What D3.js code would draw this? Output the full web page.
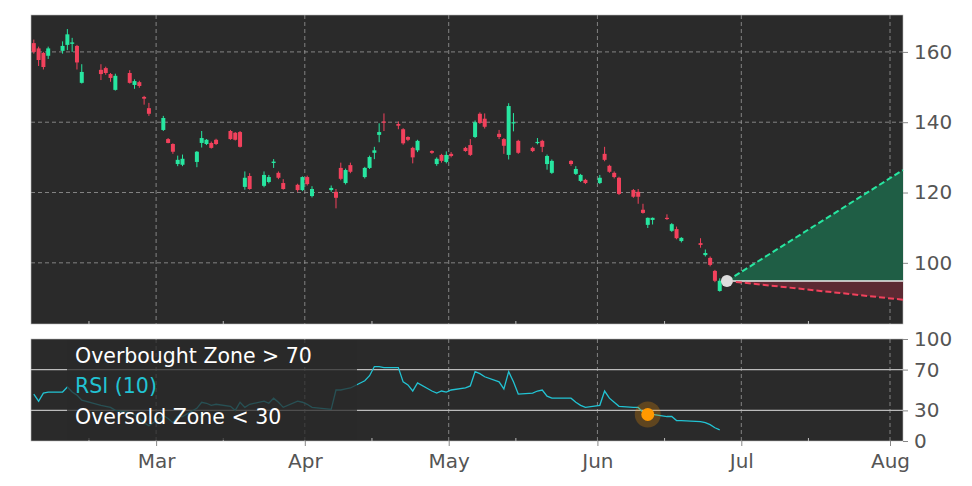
<!DOCTYPE html>
<html><head><meta charset="utf-8">
<script src="https://cdn.jsdelivr.net/npm/d3@7"></script>
<style>body{margin:0;background:#fff}svg{display:block}text{font-family:"DejaVu Sans",sans-serif}</style>
</head><body><svg id="c" width="972" height="486"></svg>
<script>
const holidays = ["2026-02-16","2026-04-03","2026-05-25","2026-06-19"];
const open  = [162.5,161,159.7,158.9,160.3,162,162.3,161.7,151.2,154.9,155.4,153.7,149.2,154,150.6,151.4,147.2,144,
137.8,135.2,133.8,128.1,127.9,128.7,134.1,133.8,134.1,135,137.5,137,137.2,121.6,124.7,121.9,123,128.4,125.6,122.7,122.2,120.7,
124.4,119,120.7,120.2,127,122.7,127.8,124.4,127,131.3,136.4,140.2,139.5,138,135.8,132.7,132,131.8,128.1,130.7,128.7,
131,132.7,133.5,135.8,142.4,141,136.7,135.2,130.7,139.8,134.7,132.7,134.1,134.7,128.1,125.6,129,125.3,123.3,123.6,
122.7,131,127.6,125.6,124.2,120.7,120.2,115.1,110.8,112.2,112.8,109.1,109.6,106.2,105.6,102.2,101.4,97.7,92];
const high  = [163.5,161.5,160,161.5,163,166.5,164,162,156.5,156.5,155.8,154,153.8,154.8,152.2,151.8,147.5,145.5,
141.8,135.5,134,130.5,130.8,131.8,137.5,135.2,134.5,135.3,137.8,137.2,137.5,126,125.5,126,125,129.5,126,123.8,122.5,124.6,
124.8,121.8,122,121,128.5,126.8,128.5,127.3,130.5,133,139.7,142.5,140.2,138.3,136,133,135,132,130,131,131.7,
131.5,133,135.2,140.5,142.8,142.5,137.8,135.5,145.4,142.6,135,133,135.5,135,130.8,129.4,129.2,127.5,125.3,123.9,
125,133,127.9,126,124.5,121,121,116.8,112.9,112.9,113.8,111.3,110.3,107.3,107,103.8,101.8,98,95.6];
const low   = [159.5,156,155,158,159.5,160.5,160,155,151,152,153.5,151.5,149,151,149.5,149.8,145,141.8,
137.5,134,131,127.5,127.5,127.2,132.8,133.5,132.5,133.5,135,134.8,132.8,120.8,120.8,121.5,122.6,127,123.8,120.8,120.2,120.4,
122,118.6,120.2,115.5,123.5,122.3,125.5,124,126.7,129.5,134.3,137.5,138,133.6,134.6,128.3,131.5,131,127.6,128.5,128.3,
130,131.6,130.4,135.5,139.5,138.2,135.2,131,129.4,137.4,131,131.5,133.7,131.5,126.5,125.3,127.6,125,123,122.4,
122.4,128.9,125.6,124,119.3,118.5,116.8,114,109.9,110.9,112.2,108.8,106.7,105.8,104.3,101.8,99,94.5,91.8];
const close = [160,157.7,155.7,161,161.7,165,162.7,157,154.3,153.7,154,152.6,153.2,151.2,151.7,150.3,146.7,142.4,
141.2,134.1,131.6,129.3,129.6,131.6,135.5,135,132.7,133.8,135.2,135,133,124.2,121,125,124.4,128.8,124.2,121,120.7,124.4,
122.4,121,121.3,118.5,123.9,126.4,125.9,127,130.1,132,137.2,139.9,139,134,135,130,134.7,131.3,129.6,129,130.7,
130.4,131.8,130.7,140,139.8,138.7,135.8,133.3,144.6,140,131.3,131.8,134.4,133,130.4,129,128.1,126.7,125,122.7,
124.2,129.3,125.9,124.4,119.6,118.8,118.8,114.2,112.8,112.8,112.5,111,107,107.1,105.1,102.8,99.4,94.9,94.9];
const rsi = [46,39,47,48,48,53,48,45,40,35,34,33,30,28,26,22,18,15,
25,22,18,24,24,32,38,37,35,36,34,30,38,33,36,39,37,42,38,33,39,38,
36,33,31,50,50,51,52,59,64,73,73,72,72,58,55,49,57,49,47,49,48,
50,52,54,68,66,63,58,51,68,58,46,47,49,50,44,42,42,38,35,33,
35,49,42,38,34,33,33,28,26,26,24,24,20,20,19,18,16,13,11];
const priceTicks = [100,120,140,160];
const rsiTicks = [0,30,70,100];
const monthLabels = ["Mar","Apr","May","Jun","Jul","Aug"];
const rsiLegend = ["Overbought Zone > 70","RSI (10)","Oversold Zone < 30"];
const forecastStart = {date:"2026-06-28", value:94.85};
const forecastEnd = {date:"2026-08-04", high:126.4, low:89.5};
const signalIndex = 89; // Jun 10

const parse = d3.utcParse("%Y-%m-%d");
const hol = new Set(holidays);
const dates = d3.utcDay.range(parse("2026-02-03"), parse("2026-06-27"))
  .filter(d => d.getUTCDay()>0 && d.getUTCDay()<6 && !hol.has(d3.utcFormat("%Y-%m-%d")(d)));
const data = dates.map((d,i)=>({d:d3.utcHour.offset(d,12),o:open[i],h:high[i],l:low[i],c:close[i],r:rsi[i]}));

const svg = d3.select("#c");
const L=31,R=903,T1=15,B1=324,T2=339,B2=441;
const x = d3.scaleUtc().domain([new Date(Date.UTC(2026,1,2,22)), new Date(Date.UTC(2026,7,3,17))]).range([L,R]);
const y = d3.scaleLinear().domain([82.6,170.5]).range([B1,T1]);
const yr = d3.scaleLinear().domain([0,100]).range([B2,T2]);
const bg="#2a2a2a", grid="#9a9a9a", up="#27e6a0", dn="#f2415c", txt="#555";

[[T1,B1],[T2,B2]].forEach(([t,b])=>svg.append("rect").attr("x",L).attr("y",t).attr("width",R-L).attr("height",b-t).attr("fill",bg).attr("stroke","#bbb").attr("stroke-width",0.6));
const months = monthLabels.map((m,i)=>new Date(Date.UTC(2026,2+i,1)));
const mids = months.map(m=>new Date(Date.UTC(m.getUTCFullYear(),m.getUTCMonth()-1,15))).concat([new Date(Date.UTC(2026,6,15))]);
months.forEach(m=>{
  [[T1,B1],[T2,B2]].forEach(([t,b])=>svg.append("line").attr("x1",x(m)).attr("x2",x(m)).attr("y1",t).attr("y2",b).attr("stroke",grid).attr("stroke-width",0.8).attr("stroke-dasharray","4,3"));
});
priceTicks.forEach(v=>svg.append("line").attr("x1",L).attr("x2",R).attr("y1",y(v)).attr("y2",y(v)).attr("stroke",grid).attr("stroke-width",0.8).attr("stroke-dasharray","4,3"));
// minor ticks
mids.forEach(m=>{ if(x(m)>L&&x(m)<R){[B1,B2].forEach(b=>svg.append("line").attr("x1",x(m)).attr("x2",x(m)).attr("y1",b).attr("y2",b-3).attr("stroke","#bbb"));}});

// forecast
const x0=x(d3.utcHour.offset(parse(forecastStart.date),0)), x1=R;
const yv=y(forecastStart.value);
svg.append("path").attr("d",`M${x0},${yv}L${x1},${y(forecastEnd.high)}L${x1},${yv}Z`).attr("fill","#1f5e45");
svg.append("path").attr("d",`M${x0},${yv}L${x1},${y(forecastEnd.low)}L${x1},${yv}Z`).attr("fill","#5c2a33");
svg.append("line").attr("x1",x0).attr("x2",x1).attr("y1",yv).attr("y2",yv).attr("stroke","#eee").attr("stroke-width",1.5);
svg.append("line").attr("x1",x0).attr("x2",x1).attr("y1",yv).attr("y2",y(forecastEnd.high)).attr("stroke",up).attr("stroke-width",2).attr("stroke-dasharray","6,3");
svg.append("line").attr("x1",x0).attr("x2",x1).attr("y1",yv).attr("y2",y(forecastEnd.low)).attr("stroke",dn).attr("stroke-width",2).attr("stroke-dasharray","6,3");

// candles
const g=svg.append("g");
data.forEach(d=>{
  const col=d.c>=d.o?up:dn, cx=x(d.d);
  g.append("line").attr("x1",cx).attr("x2",cx).attr("y1",y(d.h)).attr("y2",y(d.l)).attr("stroke",col).attr("stroke-width",1);
  const top=y(Math.max(d.o,d.c)), bot=y(Math.min(d.o,d.c));
  g.append("rect").attr("x",cx-2).attr("width",4).attr("y",top).attr("height",Math.max(1.2,bot-top)).attr("fill",col);
});
svg.append("circle").attr("cx",x0).attr("cy",yv).attr("r",6).attr("fill","#ddd");

// RSI
[30,70].forEach(v=>svg.append("line").attr("x1",L).attr("x2",R).attr("y1",yr(v)).attr("y2",yr(v)).attr("stroke","#bbb").attr("stroke-width",1.2));
svg.append("path").datum(data).attr("d",d3.line().x(d=>x(d.d)).y(d=>yr(d.r))).attr("fill","none").attr("stroke","#22c3d3").attr("stroke-width",1.3);
const sd=data[signalIndex];
svg.append("circle").attr("cx",x(sd.d)).attr("cy",yr(sd.r)).attr("r",13).attr("fill","#ff9900").attr("opacity",0.25);
svg.append("circle").attr("cx",x(sd.d)).attr("cy",yr(sd.r)).attr("r",6.5).attr("fill","#ff9900");
svg.append("rect").attr("x",67).attr("y",T2+1).attr("width",290).attr("height",B2-T2-2).attr("fill",bg).attr("opacity",0.75);
const cols=["#fff","#22c3d3","#fff"], ys=[356,386,417];
rsiLegend.forEach((t,i)=>svg.append("text").attr("x",75).attr("y",ys[i]+7).attr("font-size",20.5).attr("fill",cols[i]).text(t));

// axes
const ax=svg.append("g").attr("transform",`translate(${R},0)`).call(d3.axisRight(y).tickValues(priceTicks).tickSize(5).tickPadding(6));
const ar=svg.append("g").attr("transform",`translate(${R},0)`).call(d3.axisRight(yr).tickValues(rsiTicks).tickSize(5).tickPadding(6));
const axb=svg.append("g").attr("transform",`translate(0,${B2})`).call(d3.axisBottom(x).tickValues(months).tickFormat((d,i)=>monthLabels[i]).tickSize(5).tickPadding(8));
[ax,ar,axb].forEach(a=>{a.select(".domain").remove();a.selectAll("line").attr("stroke","#888");a.selectAll("text").attr("fill",txt).attr("font-size",20).attr("font-family","DejaVu Sans");});
</script></body></html>
